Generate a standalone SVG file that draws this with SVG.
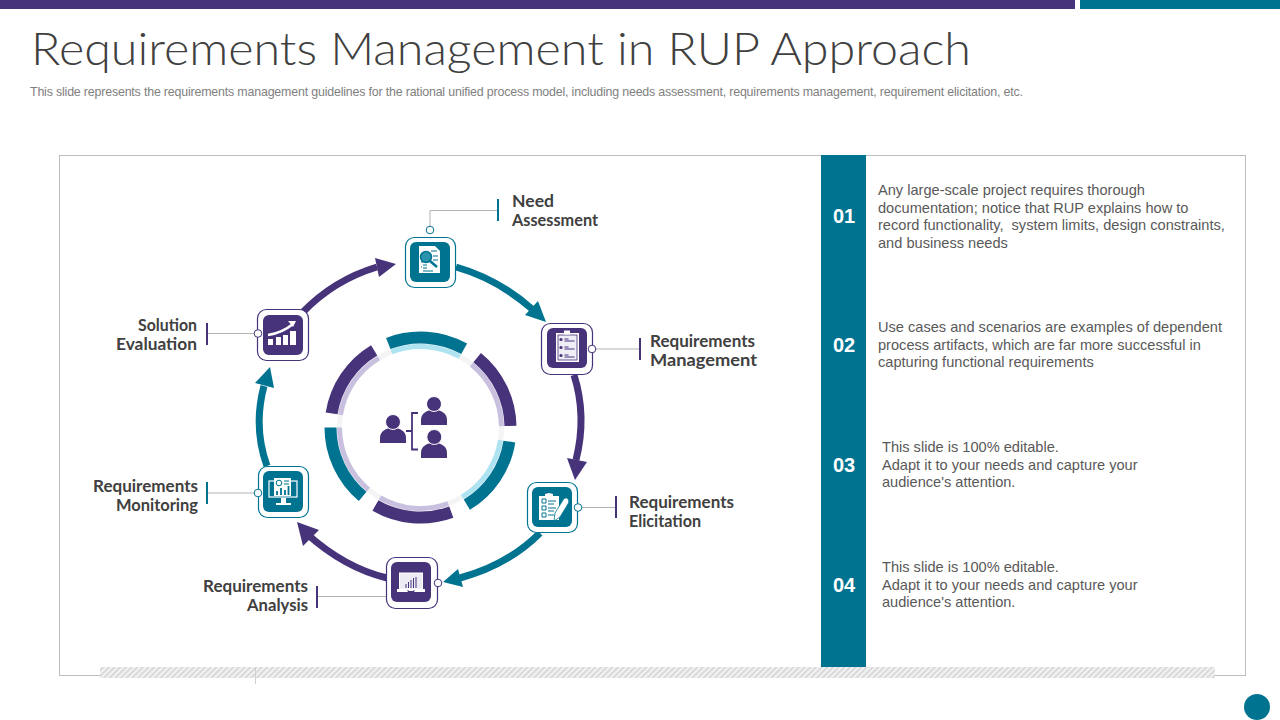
<svg xmlns="http://www.w3.org/2000/svg" width="1280" height="720" viewBox="0 0 1280 720">
<defs>
<pattern id="hatch" width="4" height="4" patternUnits="userSpaceOnUse" patternTransform="rotate(45)"><rect width="4" height="4" fill="#f2f2f2"/><rect width="1.6" height="4" fill="#d4d4d4"/></pattern>
</defs>
<style>
text{font-family:"Liberation Sans",Arial,sans-serif}
.title{font-family:"Lato","Open Sans",sans-serif;font-size:46px;font-weight:300;fill:#404040}
.sub{font-size:12.4px;fill:#7f7f7f}
.lab{font-family:"Lato","Open Sans",sans-serif;font-size:17px;font-weight:700;fill:#404040}
.end{text-anchor:end}
.num{font-size:20px;font-weight:700;fill:#fff;text-anchor:middle}
.body{font-size:14.6px;fill:#595959;white-space:pre}
.seg{fill:none;stroke-width:12}
.thin{fill:none;stroke-width:5}
.t{stroke:#007391}.p{stroke:#47337a}.lb{stroke:#aee4f2}.lv{stroke:#c9c0e0}
.arr{fill:none;stroke-width:7}
.lead{fill:none;stroke:#b3b3b3;stroke-width:1}
.bar{stroke-width:2;fill:none}
.dot{fill:#fff;stroke-width:1}
.box{fill:#fff;stroke-width:1.2}
.ic{fill:#fff}
.icl{fill:none;stroke:#fff;stroke-width:1.2}
.pf{fill:#47337a}
.hd{fill:#47337a;stroke:#fff;stroke-width:1}
.tl{fill:none;stroke:#007391;stroke-width:1}
.pl{fill:none;stroke:#47337a;stroke-width:1}
</style>
<rect x="0" y="0" width="1075" height="9" fill="#47337a"/>
<rect x="1080" y="0" width="200" height="9" fill="#007391"/>
<text class="title" x="31" y="65" textLength="940" lengthAdjust="spacingAndGlyphs">Requirements Management in RUP Approach</text>
<text class="sub" x="30" y="95.500" textLength="993" lengthAdjust="spacing">This slide represents the requirements management guidelines for the rational unified process model, including needs assessment, requirements management, requirement elicitation, etc.</text>
<rect x="59.500" y="155.500" width="1186" height="520" fill="#fff" stroke="#bdbdbd"/>
<rect x="100" y="667" width="1115" height="11" fill="url(#hatch)"/>
<path d="M255.500 667V684" stroke="#cfcfcf" fill="none"/>
<rect x="821" y="155" width="45" height="512" fill="#007391"/>
<circle cx="1257" cy="707" r="13" fill="#007391"/>

<g id="panel-text">
<text class="num" x="844" y="223">01</text>
<text class="num" x="844" y="352">02</text>
<text class="num" x="844" y="472">03</text>
<text class="num" x="844" y="592">04</text>
<text class="body" x="878" y="195">Any large-scale project requires thorough</text>
<text class="body" x="878" y="213">documentation; notice that RUP explains how to</text>
<text class="body" x="878" y="230">record functionality,  system limits, design constraints,</text>
<text class="body" x="878" y="248">and business needs</text>
<text class="body" x="878" y="332">Use cases and scenarios are examples of dependent</text>
<text class="body" x="878" y="350">process artifacts, which are far more successful in</text>
<text class="body" x="878" y="367">capturing functional requirements</text>
<text class="body" x="882" y="452">This slide is 100% editable.</text>
<text class="body" x="882" y="470">Adapt it to your needs and capture your</text>
<text class="body" x="882" y="487">audience's attention.</text>
<text class="body" x="882" y="572">This slide is 100% editable.</text>
<text class="body" x="882" y="590">Adapt it to your needs and capture your</text>
<text class="body" x="882" y="607">audience's attention.</text>
</g>

<g id="hub">
<circle cx="420.500" cy="427.500" r="81" fill="#fff" stroke="#f4f4f4" stroke-width="5"/>
<g transform="rotate(-111 420.500 427.500)"><circle class="thin lb" cx="420.500" cy="427.500" r="81" pathLength="360" stroke-dasharray="50 310"/><circle class="seg t" cx="420.500" cy="427.500" r="90" pathLength="360" stroke-dasharray="50 310"/></g>
<g transform="rotate(-51 420.500 427.500)"><circle class="thin lv" cx="420.500" cy="427.500" r="81" pathLength="360" stroke-dasharray="50 310"/><circle class="seg p" cx="420.500" cy="427.500" r="90" pathLength="360" stroke-dasharray="50 310"/></g>
<g transform="rotate(9 420.500 427.500)"><circle class="thin lb" cx="420.500" cy="427.500" r="81" pathLength="360" stroke-dasharray="50 310"/><circle class="seg t" cx="420.500" cy="427.500" r="90" pathLength="360" stroke-dasharray="50 310"/></g>
<g transform="rotate(70 420.500 427.500)"><circle class="thin lv" cx="420.500" cy="427.500" r="81" pathLength="360" stroke-dasharray="50 310"/><circle class="seg p" cx="420.500" cy="427.500" r="90" pathLength="360" stroke-dasharray="50 310"/></g>
<g transform="rotate(130 420.500 427.500)"><circle class="thin lv" cx="420.500" cy="427.500" r="81" pathLength="360" stroke-dasharray="50 310"/><circle class="seg t" cx="420.500" cy="427.500" r="90" pathLength="360" stroke-dasharray="50 310"/></g>
<g transform="rotate(189 420.500 427.500)"><circle class="thin lv" cx="420.500" cy="427.500" r="81" pathLength="360" stroke-dasharray="50 310"/><circle class="seg p" cx="420.500" cy="427.500" r="90" pathLength="360" stroke-dasharray="50 310"/></g>
<g class="pf">
<path d="M380 443v-5c0-7 6-10 13-10s13 3 13 10v5z"/><circle class="hd" cx="393" cy="422" r="7.500"/>
<path d="M421 425v-5c0-7 6-10 13-10s13 3 13 10v5z"/><circle class="hd" cx="434" cy="404" r="7.500"/>
<path d="M421 458v-5c0-7 6-10 13-10s13 3 13 10v5z"/><circle class="hd" cx="434.300" cy="437" r="7.500"/>
</g>
<path d="M418 413h-6v36.500h6M412 431h-6" fill="none" stroke="#47337a" stroke-width="1.800"/>
</g>

<g id="connectors">
<path class="arr t" d="M456 267Q498 279 532 309"/><path fill="#007391" d="M546 322L538 301L525 315Z"/>
<path class="arr p" d="M574 375Q587 416 576 460"/><path fill="#47337a" d="M575 480L567 458L587 462Z"/>
<path class="arr t" d="M540 533Q508 565 460 578"/><path fill="#007391" d="M443 582L458 569L463 587Z"/>
<path class="arr p" d="M387 578Q345 568 307 534"/><path fill="#47337a" d="M297 522L319 530L303 546Z"/>
<path class="arr t" d="M267 466Q253 427 264 386"/><path fill="#007391" d="M270 367L255 383L274 388Z"/>
<path class="arr p" d="M303 312Q334 280 377 267"/><path fill="#47337a" d="M396 264L375 258L379 277Z"/>
<path class="lead" d="M430 227V210.500H497"/><path class="lead" d="M592 349H640"/><path class="lead" d="M578 507.500H615"/><path class="lead" d="M387 596.500H317"/><path class="lead" d="M258 493H207"/><path class="lead" d="M258 333.500H207"/>
<path class="bar t" d="M498 199V221"/><path class="bar p" d="M640 338V360"/><path class="bar p" d="M616 496V518"/><path class="bar p" d="M317 586V608"/><path class="bar t" d="M207 482V504"/><path class="bar p" d="M207 323V345"/>
</g>

<g id="node-need-assessment">
<text class="lab" x="512" y="207" textLength="42" lengthAdjust="spacingAndGlyphs">Need</text><text class="lab" x="512" y="226" textLength="86" lengthAdjust="spacingAndGlyphs">Assessment</text>
<circle class="dot t" cx="430" cy="230" r="3.800"/>
<rect class="box t" x="405.500" y="237.500" width="50" height="50" rx="9"/>
<rect x="410" y="242" width="40" height="40" rx="6" fill="#007391"/>
<path class="ic" d="M419 246h16l5 5v22h-21z"/>
<path class="tl" d="M431 251h6M433 256h5M433 260h5M423 265h4M423 268h4M423 271h10M421 262h2M421 267h1"/>
<circle cx="426" cy="257" r="5.500" fill="#2b93ab" stroke="#007391" stroke-width="1.500"/><path d="M430 261l7 6" stroke="#007391" stroke-width="2.500"/>
</g>

<g id="node-requirements-management">
<text class="lab" x="650" y="347" textLength="105" lengthAdjust="spacingAndGlyphs">Requirements</text><text class="lab" x="650" y="366" textLength="107" lengthAdjust="spacingAndGlyphs">Management</text>
<rect class="box p" x="541.500" y="323.500" width="51" height="51" rx="9"/>
<rect x="547" y="328" width="40" height="40" rx="6" fill="#47337a"/>
<rect class="ic" x="556" y="333" width="23" height="29"/>
<rect x="558" y="335" width="19" height="25" fill="#efedf5" stroke="#47337a" stroke-width=".8"/>
<rect class="ic" x="564" y="330.500" width="6" height="4"/>
<g class="pf"><circle cx="561" cy="339.500" r="1.600"/><circle cx="561" cy="347.500" r="1.600"/><circle cx="561" cy="355.500" r="1.600"/></g>
<path class="pl" d="M564.500 339h4M564.500 341h10M564.500 347h4M564.500 349h10M564.500 355h4M564.500 357h10"/>
<circle class="dot p" cx="592" cy="349" r="3.800"/>
</g>

<g id="node-requirements-elicitation">
<text class="lab" x="629" y="508" textLength="105" lengthAdjust="spacingAndGlyphs">Requirements</text><text class="lab" x="629" y="527" textLength="72" lengthAdjust="spacingAndGlyphs">Elicitation</text>
<rect class="box t" x="527.500" y="482.500" width="50" height="50" rx="9"/>
<rect x="532" y="487" width="40" height="40" rx="6" fill="#007391"/>
<path class="ic" d="M539 496h6v-2l4-1 4 1v2h6v24h-20z"/>
<path class="tl" d="M542 499h4v4h-4zM542 506h4v4h-4zM542 513h4v4h-4zM548 501h8M548 504h6M548 508h8M548 511h6M548 515h6"/>
<path class="ic" stroke="#007391" stroke-width=".8" d="M555 513l8-13c1-2 4-3 5-1s1 3 0 5l-8 13-6 4z"/>
<circle class="dot t" cx="578" cy="507.500" r="3.800"/>
</g>

<g id="node-requirements-analysis">
<text class="lab end" x="308" y="592" textLength="105" lengthAdjust="spacingAndGlyphs">Requirements</text><text class="lab end" x="308" y="611" textLength="61" lengthAdjust="spacingAndGlyphs">Analysis</text>
<rect class="box p" x="386.500" y="557.500" width="51" height="51" rx="9"/>
<rect x="391" y="562" width="40" height="40" rx="6" fill="#47337a"/>
<rect x="399.500" y="573" width="23" height="16" fill="#ecebf3" stroke="#fff"/>
<path class="ic" d="M397 589h28v3h-28z"/>
<path class="pl" d="M406 588v-4M408.500 588v-6M411 588v-8M413.500 588v-10M416 588v-11"/>
<path class="pl" d="M408 590v1.500h6v-1.500"/>
<circle class="dot p" cx="438" cy="583" r="3.800"/>
</g>

<g id="node-requirements-monitoring">
<text class="lab end" x="198" y="492" textLength="105" lengthAdjust="spacingAndGlyphs">Requirements</text><text class="lab end" x="198" y="511" textLength="82" lengthAdjust="spacingAndGlyphs">Monitoring</text>
<rect class="box t" x="258.500" y="466.500" width="50" height="51" rx="9"/>
<rect x="263" y="471" width="40" height="41" rx="6" fill="#007391"/>
<rect class="icl" x="269" y="481" width="28" height="16"/>
<path class="ic" d="M274 478h17v18h-17z"/>
<circle cx="279" cy="483" r="2.800" fill="none" stroke="#007391"/>
<path class="tl" d="M284 481h5M284 484h5"/>
<path d="M277 495v-4M281 495v-7M285 495v-5M288.500 495v-9" stroke="#007391" stroke-width="1.800"/>
<path class="ic" d="M281 498h5v5h5v2h-15v-2h5z"/>
<circle class="dot t" cx="258" cy="493" r="3.800"/>
</g>

<g id="node-solution-evaluation">
<text class="lab end" x="197" y="331" textLength="59" lengthAdjust="spacingAndGlyphs">Solution</text><text class="lab end" x="197" y="350" textLength="81" lengthAdjust="spacingAndGlyphs">Evaluation</text>
<rect class="box p" x="257.500" y="309.500" width="51" height="51" rx="9"/>
<rect x="263" y="315" width="40" height="40" rx="6" fill="#47337a"/>
<path class="ic" d="M268 339h5v6h-5zM276 337h5v8h-5zM283 335h5v10h-5zM290 331h6v14h-6z"/>
<path class="icl" style="stroke-width:2.500" d="M268 335Q282 333 293 324"/><path class="ic" d="M296 321l-8 0 5 6z"/>
<circle class="dot p" cx="258" cy="333.500" r="3.800"/>
</g>
</svg>
